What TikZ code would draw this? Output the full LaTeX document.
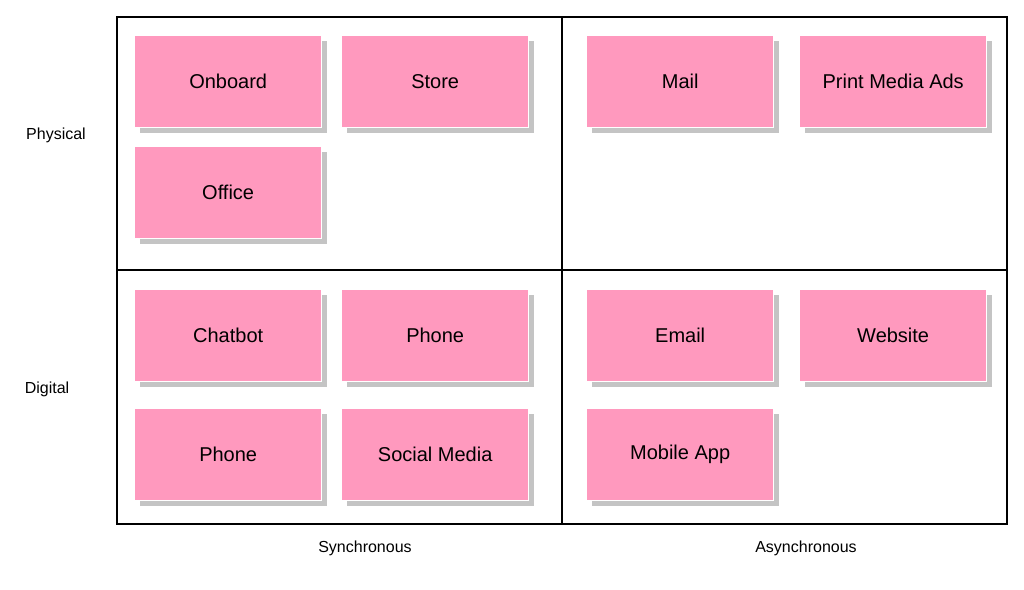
\documentclass[tikz,border=0pt]{standalone}
\usepackage{fontspec}
\setmainfont{Liberation Sans}
\definecolor{pinkbox}{HTML}{FF99BE}
\definecolor{shad}{HTML}{C4C4C4}
\begin{document}
\begin{tikzpicture}[x=0.75pt,y=-0.75pt,
  card/.style={fill=pinkbox,draw=white,line width=1pt,minimum width=140.25pt,minimum height=69pt,anchor=north west,inner sep=0pt,font=\fontsize{15}{18}\selectfont},
  lab/.style={font=\fontsize{12}{14}\selectfont}]
\useasboundingbox (0,0) rectangle (1024,589);
\draw[line width=1pt] (117,17) rectangle (1007,524);
\draw[line width=1pt] (117,270) -- (1007,270);
\draw[line width=1.6pt] (562,17) -- (562,524);
\foreach \n/\x/\y/\t in {a/134/35/Onboard,b/341/35/Store,c/134/146/Office,d/586/35/Mail,e/799/35/Print Media Ads,f/134/289/Chatbot,g/341/289/Phone,h/134/408/Phone,i/341/408/Social Media,j/586/289/Email,k/799/289/Website,l/586/408/Mobile App}{
  \fill[shad] (\x+6,\y+6) rectangle (\x+193,\y+98);
  \node[card] (\n) at (\x,\y) {\t};
}
\node[lab] (p) at (56,135) {Physical};
\node[lab] (q) at (47,389) {Digital};
\node[lab] (s) at (365,548) {Synchronous};
\node[lab] (t) at (806,548) {Asynchronous};
\end{tikzpicture}
\end{document}
